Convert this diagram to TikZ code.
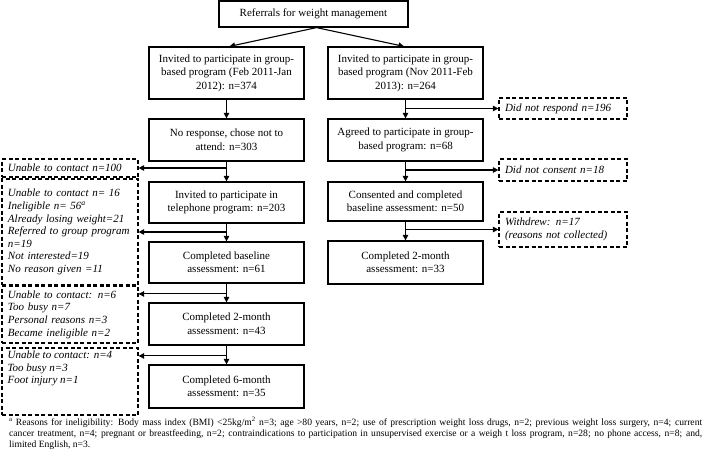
\documentclass[tikz,border=0pt]{standalone}
\usepackage{fontspec}
\setmainfont{Liberation Serif}
\usetikzlibrary{arrows.meta,calc}
\begin{document}
\begin{tikzpicture}[x=1pt,y=-1pt,
 box/.style={draw,line width=1.2pt,align=center,font=\fontsize{11}{13.5}\selectfont,inner sep=2pt,minimum width=155pt},
 dbox/.style={draw,line width=1.2pt,dash pattern=on 4pt off 2.5pt,align=left,font=\fontsize{11}{12.6}\selectfont\itshape,inner xsep=6pt,inner ysep=2pt},
 dboxL/.style={dbox,minimum width=136pt,text width=124pt},
 dboxR/.style={dbox,minimum width=128pt,text width=116pt},
 arr/.style={line width=1.1pt,-{Triangle[length=5.5pt,width=5.5pt]}}]
\useasboundingbox (0,0) rectangle (704,452);
% main boxes
\node[box,minimum width=189pt,minimum height=26pt] (top) at (313.5,14) {Referrals for weight management};
\node[box,minimum height=52pt] (L1) at (226.5,73) {Invited to participate in group-\\based program (Feb 2011-Jan\\2012): n=374};
\node[box,minimum height=52pt] (R1) at (405.5,73) {Invited to participate in group-\\based program (Nov 2011-Feb\\2013): n=264};
\node[box,minimum height=42pt] (L2) at (226.5,140) {No response, chose not to\\attend: n=303};
\node[box,minimum height=42pt] (R2) at (405.5,140) {Agreed to participate in group-\\based program: n=68};
\node[box,minimum height=41pt] (L3) at (226.5,202.5) {Invited to participate in\\telephone program: n=203};
\node[box,minimum height=39pt] (R3) at (405.5,201.5) {Consented and completed\\baseline assessment: n=50};
\node[box,minimum height=41pt] (L4) at (226.5,262.5) {Completed baseline\\assessment: n=61};
\node[box,minimum height=43pt] (R4) at (405.5,262.5) {Completed 2-month\\assessment: n=33};
\node[box,minimum height=42pt] (L5) at (226.5,324) {Completed 2-month\\assessment: n=43};
\node[box,minimum height=43pt] (L6) at (226.5,386.5) {Completed 6-month\\assessment: n=35};
% dashed boxes left
\node[dboxL,minimum height=18pt] (d1) at (70,168) {Unable to contact n=100};
\node[dboxL,minimum height=106pt] (d2) at (70,232) {Unable to contact n= 16\\Ineligible n= 56\textsuperscript{a}\\Already losing weight=21\\Referred to group program\\n=19\\Not interested=19\\No reason given =11\\[3pt]};
\node[dboxL,minimum height=57pt] (d3) at (70,314.5) {Unable to contact: n=6\\Too busy n=7\\Personal reasons n=3\\Became ineligible n=2};
\node[dbox,minimum width=136pt,minimum height=67pt] (d4) at (70,381.5) {};
\node[anchor=north west,align=left,font=\fontsize{11}{12.8}\selectfont\itshape,inner xsep=6pt,inner ysep=3pt] (d4t) at (d4.north west) {Unable to contact: n=4\\Too busy n=3\\Foot injury n=1};
% dashed boxes right
\node[dboxR,minimum height=21pt] (rd1) at (563,108.5) {Did not respond n=196};
\node[dboxR,minimum height=22pt] (rd2) at (563,170) {Did not consent n=18};
\node[dboxR,minimum height=35pt] (rd3) at (563,229.5) {Withdrew: n=17\\(reasons not collected)};
% arrows top
\coordinate (ts) at ($(top.south)+(3,0)$);
\draw[arr] (ts) -- ($(L1.north)+(3,0)$);
\draw[arr] (ts) -- ($(R1.north)+(-1.5,0)$);
% left column
\draw[arr] (L1) -- (L2);
\draw[arr] (L2) -- (L3);
\draw[arr] (L2.south |- d1.east) -- (d1.east);
\draw[arr] (L3) -- (L4);
\draw[arr] (L3.south |- d2.east) -- (d2.east);
\draw[arr] (L4) -- (L5);
\coordinate (m3) at ($(L4.south)!0.55!(L5.north)$);
\draw[arr] (m3) -- (m3 -| d3.east);
\draw[arr] (L5) -- (L6);
\coordinate (m4) at ($(L5.south)!0.55!(L6.north)$);
\draw[arr] (m4) -- (m4 -| d4.east);
% right column
\draw[arr] (R1) -- (R2);
\draw[arr] (R1.south |- rd1.west) -- (rd1.west);
\draw[arr] (R2) -- (R3);
\draw[arr] (R2.south |- rd2.west) -- (rd2.west);
\draw[arr] (R3) -- (R4);
\draw[arr] (R3.south |- rd3.west) -- (rd3.west);
% footnote
\node[anchor=north west,align=left,font=\fontsize{9.6}{11}\selectfont,inner sep=0pt] (fn) at (9,417) {\makebox[693pt][s]{\textsuperscript{a} Reasons for ineligibility: Body mass index (BMI) <25kg/m\textsuperscript{2} n=3; age >80 years, n=2; use of prescription weight loss drugs, n=2; previous weight loss surgery, n=4; current}\\\makebox[693pt][s]{cancer treatment, n=4; pregnant or breastfeeding, n=2; contraindications to participation in unsupervised exercise or a weigh t loss program, n=28; no phone access, n=8; and,}\\limited English, n=3.};
\end{tikzpicture}
\end{document}
